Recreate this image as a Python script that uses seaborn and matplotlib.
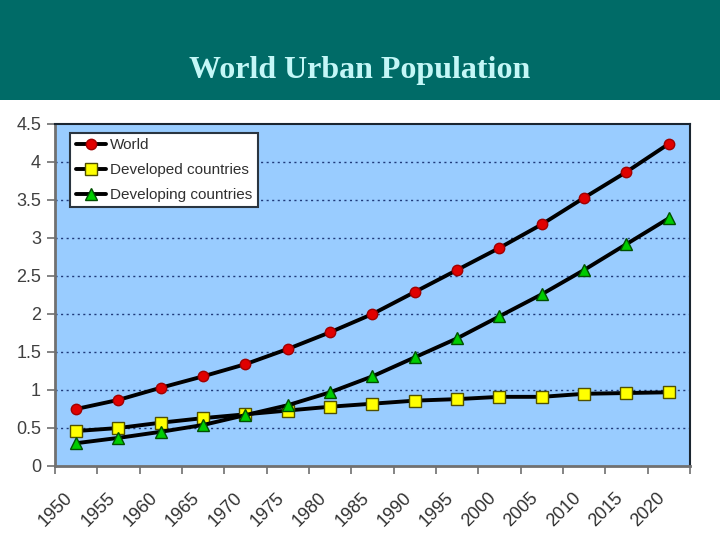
import matplotlib
matplotlib.use("Agg")
import matplotlib.pyplot as plt
import seaborn as sns
import pandas as pd
from matplotlib.lines import Line2D
from matplotlib.patches import Rectangle

years = [1950, 1955, 1960, 1965, 1970, 1975, 1980, 1985, 1990, 1995, 2000, 2005, 2010, 2015, 2020]
world = [0.75, 0.87, 1.03, 1.18, 1.34, 1.54, 1.76, 2.00, 2.29, 2.58, 2.87, 3.18, 3.53, 3.87, 4.24]
developed = [0.46, 0.50, 0.57, 0.63, 0.68, 0.73, 0.78, 0.82, 0.86, 0.88, 0.91, 0.91, 0.95, 0.96, 0.97]
developing = [0.30, 0.37, 0.45, 0.54, 0.67, 0.80, 0.97, 1.18, 1.43, 1.68, 1.97, 2.26, 2.58, 2.92, 3.26]
series_names = ["World", "Developed countries", "Developing countries"]
y_ticks = [0, 0.5, 1, 1.5, 2, 2.5, 3, 3.5, 4, 4.5]
y_tick_labels = ["0", "0.5", "1", "1.5", "2", "2.5", "3", "3.5", "4", "4.5"]
title = "World Urban Population"

sns.set_theme(style="white")
plt.rcParams['font.family'] = ['Liberation Sans', 'DejaVu Sans']

fig = plt.figure(figsize=(7.2, 5.4), dpi=100)
fig.patch.set_facecolor("white")

# title bar
fig.patches.append(Rectangle((0, 1 - 100 / 540), 1, 100 / 540, transform=fig.transFigure,
                             facecolor="#006B67", edgecolor="none", zorder=0))
fig.text(0.5, 1 - 78 / 540, title, ha="center", va="baseline", fontsize=23,
         fontweight="bold", color="#C4F7F7", family=["Liberation Serif", "DejaVu Serif"])

ax = fig.add_axes([55 / 720, (540 - 466) / 540, 635 / 720, 342 / 540])
ax.set_facecolor("#99CCFF")

df = pd.DataFrame({"year": years, "World": world, "Developed countries": developed,
                   "Developing countries": developing})

styles = {
    "World": dict(marker="o", markerfacecolor="#E00000", markeredgecolor="#A00000", markersize=7.5),
    "Developed countries": dict(marker="s", markerfacecolor="#FFFF00", markeredgecolor="#505000", markersize=8.5),
    "Developing countries": dict(marker="^", markerfacecolor="#00CC00", markeredgecolor="#005000", markersize=9),
}

handles = []
for name in series_names:
    st = styles[name]
    sns.lineplot(data=df, x="year", y=name, ax=ax, color="black", linewidth=2.8,
                 markeredgewidth=1, zorder=3, **st)
    handles.append(Line2D([], [], color="black", linewidth=2.8, markeredgewidth=1, **st))

ax.set_xlim(1947.5, 2022.5)
ax.set_ylim(0, 4.5)
ax.set_xlabel("")
ax.set_ylabel("")

# major ticks at category boundaries, labels at category centers
ax.set_xticks([1947.5 + 5 * i for i in range(16)])
ax.set_xticklabels([])
ax.set_xticks(years, minor=True)
ax.set_xticklabels([str(y) for y in years], minor=True, rotation=45, ha="right",
                   fontsize=13, color="#303030")
ax.tick_params(axis="x", which="major", direction="out", length=6, width=1.2, color="#707070", bottom=True)
ax.tick_params(axis="x", which="minor", length=0, pad=17, bottom=True)

ax.set_yticks(y_ticks)
ax.set_yticklabels(y_tick_labels, fontsize=13, color="#404040")
ax.tick_params(axis="y", direction="out", length=6, width=1.2, color="#707070", left=True, pad=4)

for yv in y_ticks[1:-1]:
    ax.axhline(yv, color="#1F3A7A", linewidth=1, linestyle=(0, (1.5, 2.5)), zorder=1)

for side in ["top", "right"]:
    ax.spines[side].set_color("#1A2530")
    ax.spines[side].set_linewidth(1.5)
for side in ["left", "bottom"]:
    ax.spines[side].set_color("#707070")
    ax.spines[side].set_linewidth(2)

leg = ax.legend(handles, series_names, loc="upper left", bbox_to_anchor=(0.024, 0.975),
                fontsize=11, frameon=True, fancybox=False, handlelength=2.0,
                handletextpad=0.25, borderpad=0.35, labelspacing=0.72, borderaxespad=0)
leg.get_frame().set_edgecolor("#2A3540")
leg.get_frame().set_linewidth(1.5)
leg.get_frame().set_facecolor("white")
leg.get_frame().set_alpha(1)
for t in leg.get_texts():
    t.set_color("#303030")

fig.savefig("out.png", dpi=100)
